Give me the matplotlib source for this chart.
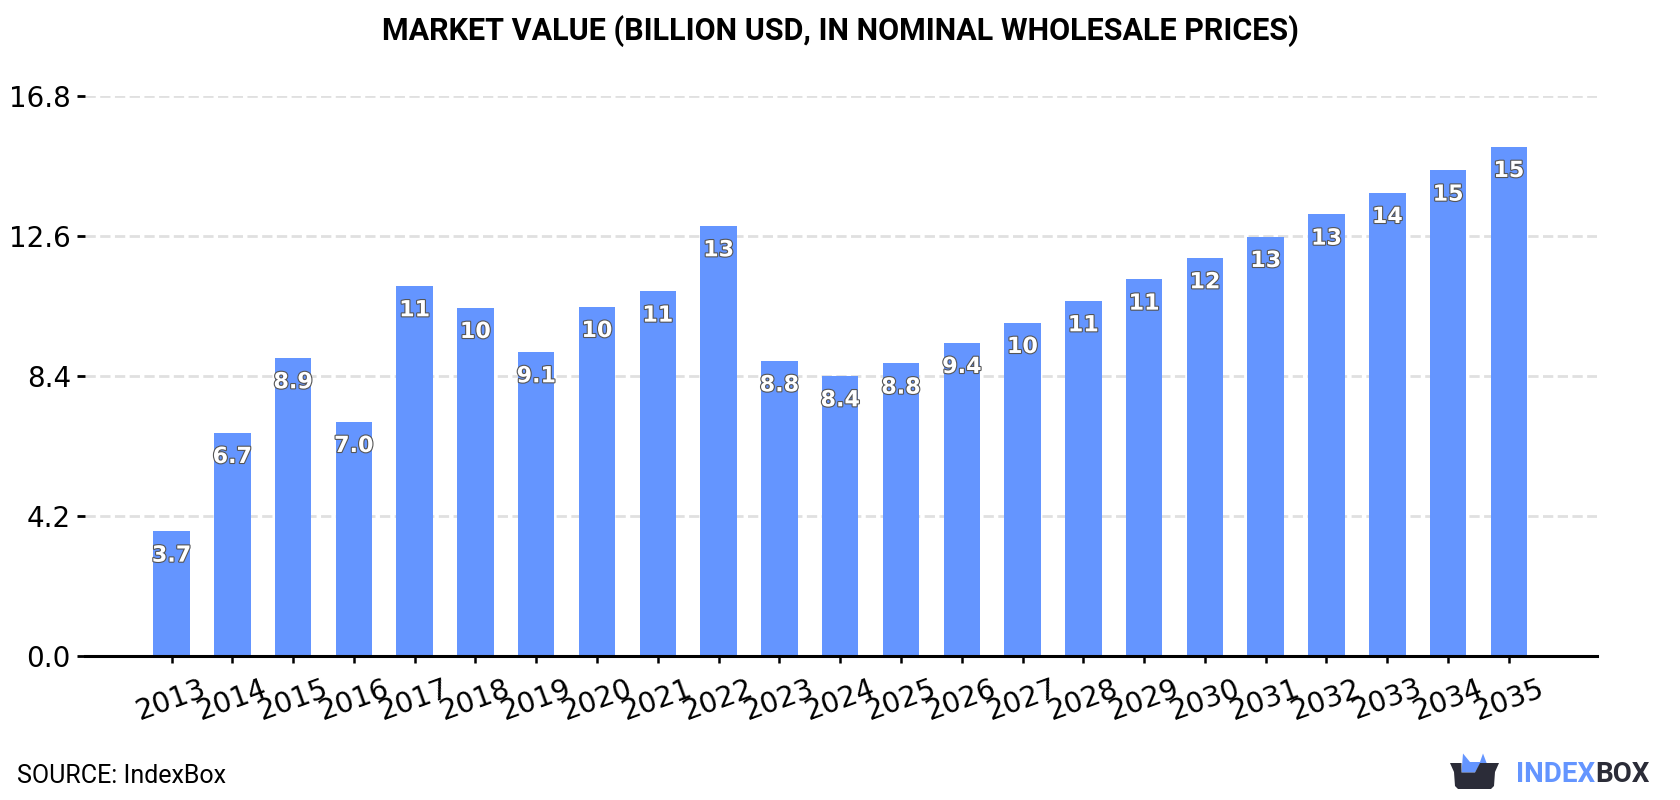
import matplotlib
matplotlib.use("Agg")
import matplotlib.pyplot as plt
import matplotlib.patheffects as pe
from matplotlib.patches import Polygon

years = [str(y) for y in range(2013, 2036)]
values = [3.74, 6.7, 8.94, 7.03, 11.1, 10.45, 9.12, 10.48, 10.94, 12.9, 8.85, 8.4, 8.78,
          9.4, 10.0, 10.65, 11.3, 11.94, 12.58, 13.25, 13.9, 14.57, 15.28]
y_ticks = [0.0, 4.2, 8.4, 12.6, 16.8]

BLUE = "#6495ff"
DARK = "#2b2c38"


def value_label(v):
    return f"{v:.1f}" if v < 10 else f"{v:.0f}"


fig = plt.figure(figsize=(16.8, 8), dpi=100)
ax = fig.add_axes([85 / 1680, 1 - 656 / 800, (1597 - 85) / 1680, (656 - 96) / 800])

positions = list(range(len(years)))
ax.bar(positions, values, width=0.6, color=BLUE, zorder=3)

for x, v in zip(positions, values):
    ax.annotate(value_label(v), (x, v), xytext=(0, -17.5), textcoords="offset points",
                ha="center", va="center", fontsize=16, fontweight="bold",
                family="DejaVu Sans", color="white", zorder=4,
                path_effects=[pe.withStroke(linewidth=1.6, foreground="#555555")])

ax.set_xlim(-1.423, 23.45)
ax.set_ylim(0, 16.8)
ax.set_yticks(y_ticks)
ax.set_yticklabels([f"{t:.1f}" for t in y_ticks], fontsize=20)
ax.set_xticks(positions)
ax.set_xticklabels(years, fontsize=20.5, rotation=20)
ax.tick_params(axis="y", length=5.8, width=2, pad=4.3)
ax.tick_params(axis="x", length=5, width=1.8, pad=8)
ax.grid(axis="y", color="#e0e0e0", linewidth=2, linestyle="--", zorder=0)
ax.set_axisbelow(True)
for side in ("top", "right", "left"):
    ax.spines[side].set_visible(False)
ax.spines["bottom"].set_linewidth(2.2)
ax.spines["bottom"].set_zorder(5)

fig.text(0.5, 1 - 31 / 800, "MARKET VALUE (BILLION USD, IN NOMINAL WHOLESALE PRICES)",
         ha="center", va="center", fontsize=22, fontweight="bold", family="Roboto")
fig.text(17 / 1680, 1 - 776 / 800, "SOURCE: IndexBox", ha="left", va="center",
         fontsize=18, family="Roboto")

# Brand mark in the lower right corner, laid out in pixel space
logo = fig.add_axes([0, 0, 1, 1], facecolor="none")
logo.set_xlim(0, 1680)
logo.set_ylim(800, 0)
logo.axis("off")
logo.add_patch(Polygon([(1461.5, 772.5), (1463, 753.5), (1470, 762), (1480, 762), (1483, 753.5),
                        (1487, 764), (1480, 764), (1475, 772.5)], color=BLUE, lw=0))
logo.add_patch(Polygon([(1450, 763), (1461.5, 763), (1461.5, 772.5), (1475, 772.5), (1480, 763),
                        (1499, 763), (1495, 772), (1494, 786), (1491, 789), (1458, 789),
                        (1455, 786), (1454, 772)], color=DARK, lw=0))
index_txt = logo.text(1516, 774, "INDEX", color=BLUE, fontsize=20, fontweight="bold",
                      family="Roboto", va="center", ha="left")
renderer = fig.canvas.get_renderer()
index_end = logo.transData.inverted().transform(index_txt.get_window_extent(renderer))[1, 0]
logo.text(index_end, 774, "BOX", color=DARK, fontsize=20, fontweight="bold",
          family="Roboto", va="center", ha="left")

fig.savefig("out.png", dpi=100, facecolor="white")
